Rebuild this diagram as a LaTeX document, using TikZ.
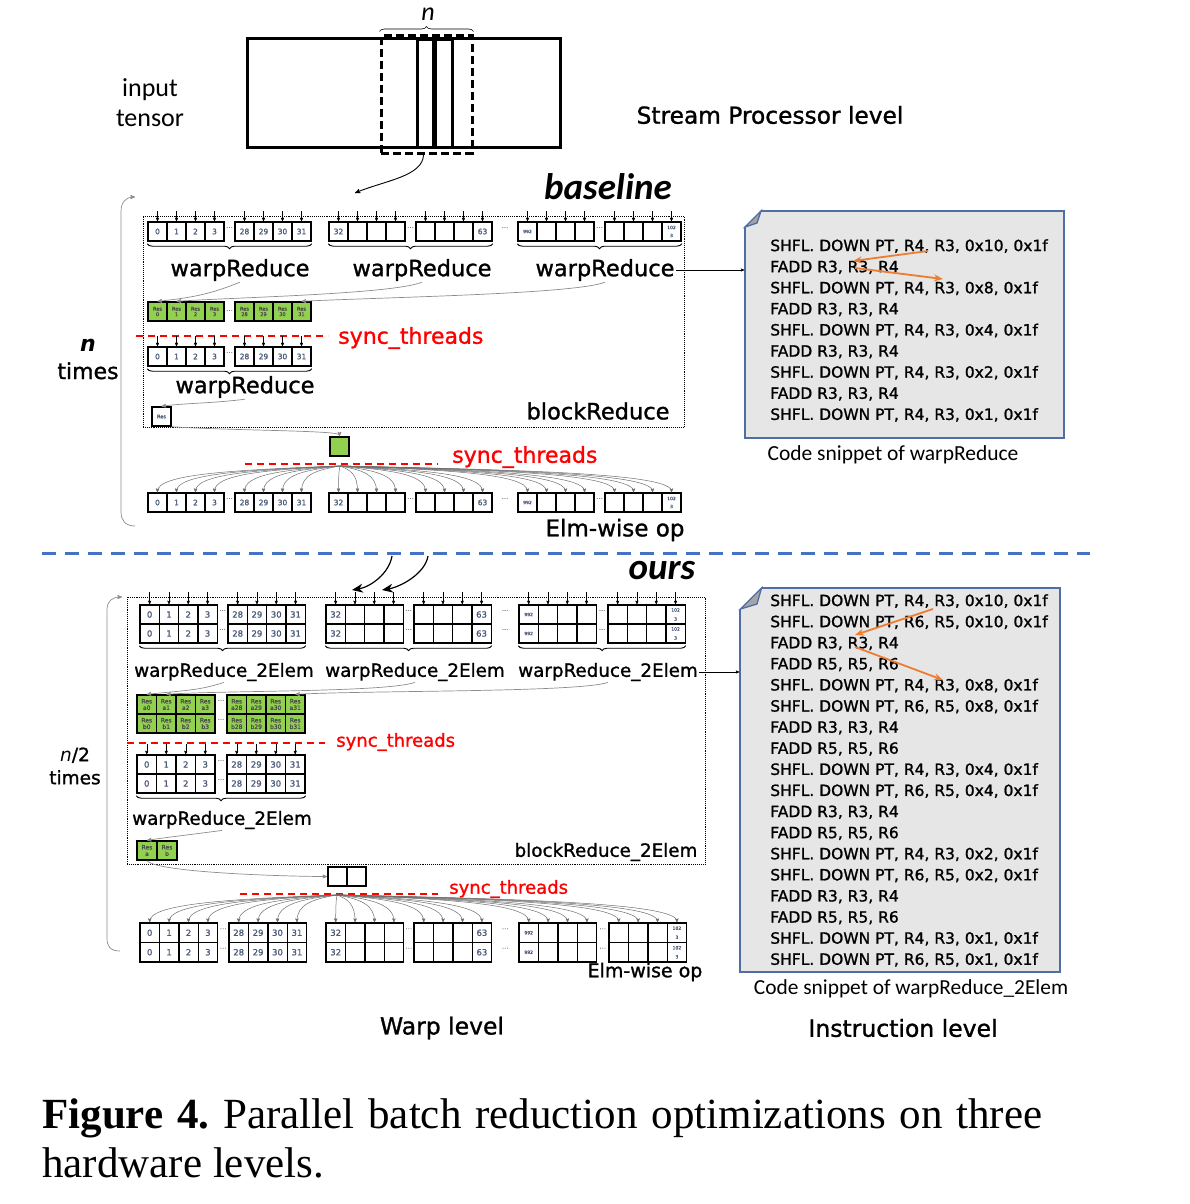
\documentclass[tikz,border=0pt]{standalone}
\usepackage{fontspec}
\setmainfont{DejaVu Sans}[UprightFeatures={FakeBold=1.2}]
\newfontfamily\calfont{Carlito}
\newfontfamily\capfont{Liberation Serif}
\usetikzlibrary{arrows,arrows.meta,calc,positioning,decorations.pathreplacing}

\definecolor{resgreen}{HTML}{92D050}
\definecolor{numgray}{HTML}{4A5A78}
\definecolor{codegray}{HTML}{E6E6E6}
\definecolor{codeblue}{HTML}{4F6EA8}
\definecolor{foldgray}{HTML}{A5A5A5}
\definecolor{sepblue}{HTML}{4472C4}
\definecolor{shflorange}{HTML}{ED7D31}
\definecolor{linegray}{HTML}{8C8C8C}
\definecolor{fangray}{HTML}{6E6E6E}

\newcommand{\tinynum}[1]{{\fontsize{4.5}{5}\selectfont #1}}

\begin{document}
\begin{tikzpicture}[x=1pt,y=-1pt,>=stealth',semithick,
  cell/.style={draw,line width=1.4pt,minimum width=19pt,minimum height=19pt,inner sep=0pt,align=center,text=numgray,font=\fontsize{7.5}{8}\selectfont},
  cellw/.style={cell,minimum width=19.3pt,font=\fontsize{8.5}{9}\selectfont},
  res/.style={cell,fill=resgreen,text=black!70,font=\fontsize{5}{5.5}\selectfont},
  resw/.style={res,minimum width=19.5pt,font=\fontsize{6}{6.5}\selectfont},
  tick/.style={->,thin},
  dots/.style={inner sep=0pt,text=gray,font=\fontsize{7}{7}\selectfont},
  brc/.style={decorate,decoration={brace,mirror,amplitude=5pt,raise=2pt},line width=0.9pt},
  feed/.style={->,linegray,line width=0.7pt},
  fan/.style={->,fangray,line width=0.5pt},
  blk/.style={draw,densely dotted,line width=0.9pt,inner sep=0pt},
  sync/.style={red,line width=1.4pt,dash pattern=on 7pt off 5pt},
  synctxt/.style={text=red,inner sep=0pt,anchor=west},
  lbl/.style={inner sep=1pt,font=\fontsize{22.5}{27}\selectfont},
  lbls/.style={inner sep=1pt,font=\fontsize{18.3}{22}\selectfont},
  codebox/.style={draw=codeblue,fill=codegray,line width=1.3pt,inner sep=0pt},
  code/.style={anchor=north west,align=left,inner sep=0pt,font=\fontsize{15.5}{21.1}\selectfont},
  shfl/.style={-{Stealth[length=9pt,width=7pt]},shflorange,line width=1.8pt},
  loopln/.style={->,linegray,line width=0.7pt},
  bigarr/.style={-{Stealth[length=11pt,width=9pt]},line width=1.2pt},
]
\useasboundingbox (0,0) rectangle (1190,1204);

% stream processor level
\node[draw,line width=3pt,minimum width=313pt,minimum height=108pt,inner sep=0pt] (tensor) at (403.5,93) {};
\node[draw,line width=3pt,minimum width=16pt,minimum height=107pt,inner sep=0pt] (col1) at (425,93.5) {};
\node[draw,line width=3pt,minimum width=17pt,minimum height=107pt,inner sep=0pt] (col2) at (443.5,93.5) {};
\node[draw,line width=3pt,dash pattern=on 8pt off 4pt,minimum width=91pt,minimum height=117pt,inner sep=0pt] (win) at (426.5,94.5) {};
\draw[decorate,decoration={brace,amplitude=5pt,raise=3pt},line width=0.6pt] (win.north west) -- (win.north east);
\node[font=\calfont\itshape\fontsize{26}{26}\selectfont] (nsz) at (428,14) {n};
\node[font=\calfont\fontsize{26}{30}\selectfont,align=center] (inp) at (150,103) {input\\tensor};
\node[font=\fontsize{23.3}{28}\selectfont] (splev) at (770,115) {Stream Processor level};
\coordinate (wtgt) at (355,193);
\draw[->,line width=0.9pt] ([xshift=-3pt]win.south) .. controls +(0,22) and +(28,-12) .. (wtgt);

% baseline
\node[font=\calfont\bfseries\itshape\fontsize{37}{37}\selectfont] (basel) at (608,187) {baseline};
\node[blk,minimum width=541pt,minimum height=211pt] (bblk) at (413.5,321.5) {};

\foreach \gx/\labs [count=\g] in {148/{0,1,2,3},235/{28,29,30,31},329/{32,{},{},{}},416/{{},{},{},63},518/{\tinynum{992},{},{},{}},605/{{},{},{},\tinynum{102}\\\tinynum{3}}}
  \foreach \lab [count=\i] in \labs {
    \node[cell] (t-\g-\i) at ({\gx+(\i-0.5)*19},231.5) {\lab};
    \draw[tick] ([yshift=10pt]t-\g-\i.north) -- (t-\g-\i.north);
  }
\foreach \a/\b in {1/2,3/4,4/5,5/6}
  \node[dots] (dt-\a) at ($(t-\a-4.east)!0.5!(t-\b-1.west)+(0,-3)$) {···};
\draw[brc] (t-1-1.south west) -- (t-2-4.south east);
\draw[brc] (t-3-1.south west) -- (t-4-4.south east);
\draw[brc] (t-5-1.south west) -- (t-6-4.south east);
\node[lbl] (wr1) at (240,270) {warpReduce};
\node[lbl] (wr2) at (422,270) {warpReduce};
\node[lbl] (wr3) at (605,270) {warpReduce};

\foreach \gx/\labs [count=\g] in {148/{0,1,2,3},235/{28,29,30,31}}
  \foreach \lab [count=\i] in \labs
    \node[res] (r-\g-\i) at ({\gx+(\i-0.5)*19},311.5) {Res\\\lab};
\node[dots] (dr) at ($(r-1-4.east)!0.5!(r-2-1.west)$) {···};
\draw[feed] (wr1.south) .. controls +(-25,10) and +(40,-4) .. (r-1-1.north);
\draw[feed] (wr2.south) .. controls +(-30,12) and +(60,-4) .. (r-1-2.north);
\draw[feed] (wr3.south) .. controls +(-30,12) and +(80,-4) .. (r-2-4.north);

\coordinate (sy1a) at (136,336);
\coordinate (sy1b) at (328,336);
\draw[sync] (sy1a) -- (sy1b);
\node[synctxt,font=\fontsize{22}{26}\selectfont] (st1) at (338,338) {sync\_threads};

\foreach \gx/\labs [count=\g] in {148/{0,1,2,3},235/{28,29,30,31}}
  \foreach \lab [count=\i] in \labs {
    \node[cell] (u-\g-\i) at ({\gx+(\i-0.5)*19},356.5) {\lab};
    \draw[tick] ([yshift=10pt]u-\g-\i.north) -- (u-\g-\i.north);
  }
\node[dots] (du) at ($(u-1-4.east)!0.5!(u-2-1.west)+(0,-3)$) {···};
\draw[brc] (u-1-1.south west) -- (u-2-4.south east);
\node[lbl] (wr4) at (245,387) {warpReduce};
\node[cell,font=\fontsize{5}{5}\selectfont] (rsum) at (161.5,416.5) {Res};
\draw[feed] (wr4.south) .. controls +(-30,4) and +(20,-3) .. (rsum.north);
\node[lbl] (brd) at (598,411) {blockReduce};
\node[cell,fill=resgreen] (bsum) at (339.5,446.5) {};
\draw[feed] (rsum.south east) .. controls +(60,4) and +(0,-6) .. (bsum.north);

\coordinate (sy2a) at (245,464);
\coordinate (sy2b) at (438,464);
\draw[sync] (sy2a) -- (sy2b);
\node[synctxt,font=\fontsize{22}{26}\selectfont] (st2) at (452,457) {sync\_threads};

\coordinate (apx1) at (340,466);
\foreach \gx/\labs [count=\g] in {148/{0,1,2,3},235/{28,29,30,31},329/{32,{},{},{}},416/{{},{},{},63},518/{\tinynum{992},{},{},{}},605/{{},{},{},\tinynum{102}\\\tinynum{3}}}
  \foreach \lab [count=\i] in \labs {
    \node[cell] (v-\g-\i) at ({\gx+(\i-0.5)*19},502.5) {\lab};
    \pgfmathsetmacro{\fdx}{\gx+(\i-0.5)*19-340}
    \draw[fan] (apx1) .. controls +({0.6*\fdx},4) and +(0,-18) .. (v-\g-\i.north);
  }
\foreach \a/\b in {1/2,3/4,4/5,5/6}
  \node[dots] (dv-\a) at ($(v-\a-4.east)!0.5!(v-\b-1.west)+(0,-3)$) {···};
\node[lbl,font=\fontsize{23}{27}\selectfont] (elm1) at (615,530) {Elm-wise op};

\coordinate (lpb) at (135,526);
\coordinate (lpt) at (135,197);
\draw[loopln] (lpb) .. controls +(-10,0) and +(0,8) .. (121,512) -- (121,212) .. controls +(0,-9) and +(-10,0) .. (lpt);
\node[align=center,font=\fontsize{22}{28}\selectfont] (ntim) at (88,359) {\textbf{\textit{n}}\\times};

% instruction level, baseline
\node[codebox,minimum width=319pt,minimum height=227pt] (cb1) at (904.5,324.5) {};
\fill[white] (743,209.5) -- (761.5,209.5) -- (743,228) -- cycle;
\draw[codeblue,line width=1.3pt,fill=foldgray] (745,227) -- (761,211) -- (757,223) -- cycle;
\node[code] (cd1) at (770,239) {SHFL. DOWN PT, R4, R3, 0x10, 0x1f\\FADD R3, R3, R4\\SHFL. DOWN PT, R4, R3, 0x8, 0x1f\\FADD R3, R3, R4\\SHFL. DOWN PT, R4, R3, 0x4, 0x1f\\FADD R3, R3, R4\\SHFL. DOWN PT, R4, R3, 0x2, 0x1f\\FADD R3, R3, R4\\SHFL. DOWN PT, R4, R3, 0x1, 0x1f};
\coordinate (o1a) at (928,251);
\coordinate (o1b) at (853,261);
\coordinate (o1c) at (855,268);
\coordinate (o1d) at (943,279);
\draw[shfl] (o1a) -- (o1b);
\draw[shfl] (o1c) -- (o1d);
\node[font=\calfont\fontsize{21.5}{26}\selectfont] (cs1) at (893,455) {Code snippet of warpReduce};
\draw[->,thin] (wr3.east) -- (wr3.east -| cb1.west);

% separator
\draw[sepblue,line width=3pt,dash pattern=on 14pt off 9pt] (42,553) -- (1090,553);

% ours
\node[font=\calfont\bfseries\itshape\fontsize{37}{37}\selectfont] (oursl) at (662,571) {ours};
\coordinate (bs1) at (392,556);
\coordinate (be1) at (352,590);
\coordinate (bs2) at (428,556);
\coordinate (be2) at (382,590);
\draw[bigarr] (bs1) .. controls +(-3,18) and +(18,-3) .. (be1);
\draw[bigarr] (bs2) .. controls +(-3,18) and +(18,-3) .. (be2);
\node[blk,minimum width=578pt,minimum height=267pt] (oblk) at (416,730.5) {};

\foreach \ry [count=\rw] in {614.5,633.5}
  \foreach \gx/\labs [count=\g] in {140/{0,1,2,3},228/{28,29,30,31},326/{32,{},{},{}},414/{{},{},{},63},519/{\tinynum{992},{},{},{}},608/{{},{},{},\tinynum{102}\\\tinynum{3}}}
    \foreach \lab [count=\i] in \labs
      \node[cellw] (p-\rw-\g-\i) at ({\gx+(\i-0.5)*19.3},\ry) {\lab};
\foreach \g in {1,...,6}
  \foreach \i in {1,...,4}
    \draw[tick] ([yshift=12pt]p-1-\g-\i.north) -- (p-1-\g-\i.north);
\foreach \rw in {1,2}
  \foreach \a/\b in {1/2,3/4,4/5,5/6}
    \node[dots] (dp-\rw-\a) at ($(p-\rw-\a-4.east)!0.5!(p-\rw-\b-1.west)+(0,-3)$) {···};
\draw[brc] (p-2-1-1.south west) -- (p-2-2-4.south east);
\draw[brc] (p-2-3-1.south west) -- (p-2-4-4.south east);
\draw[brc] (p-2-5-1.south west) -- (p-2-6-4.south east);
\node[lbls] (wq1) at (224,672) {warpReduce\_2Elem};
\node[lbls] (wq2) at (415,672) {warpReduce\_2Elem};
\node[lbls] (wq3) at (608,672) {warpReduce\_2Elem};

\foreach \ry/\abl [count=\rw] in {704.5/a,723.5/b}
  \foreach \gx/\labs [count=\g] in {137/{0,1,2,3},227/{28,29,30,31}}
    \foreach \lab [count=\i] in \labs
      \node[resw] (q-\rw-\g-\i) at ({\gx+(\i-0.5)*19.5},\ry) {Res\\\abl\lab};
\foreach \rw in {1,2}
  \node[dots] (dq-\rw) at ($(q-\rw-1-4.east)!0.5!(q-\rw-2-1.west)+(0,-3)$) {···};
\draw[feed] (wq1.south) .. controls +(-25,8) and +(40,-4) .. (q-1-1-1.north);
\draw[feed] (wq2.south) .. controls +(-30,10) and +(60,-4) .. (q-1-1-2.north);
\draw[feed] (wq3.south) .. controls +(-30,10) and +(80,-4) .. (q-1-2-4.north);

\coordinate (sy3a) at (127,743);
\coordinate (sy3b) at (325,743);
\draw[sync] (sy3a) -- (sy3b);
\node[synctxt,font=\fontsize{18}{22}\selectfont] (st3) at (336,742) {sync\_threads};

\foreach \ry [count=\rw] in {764.5,783.5}
  \foreach \gx/\labs [count=\g] in {137/{0,1,2,3},227/{28,29,30,31}}
    \foreach \lab [count=\i] in \labs
      \node[cellw,minimum width=19.5pt] (s-\rw-\g-\i) at ({\gx+(\i-0.5)*19.5},\ry) {\lab};
\foreach \g in {1,2}
  \foreach \i in {1,...,4}
    \draw[tick] ([yshift=10pt]s-1-\g-\i.north) -- (s-1-\g-\i.north);
\foreach \rw in {1,2}
  \node[dots] (ds-\rw) at ($(s-\rw-1-4.east)!0.5!(s-\rw-2-1.west)+(0,-3)$) {···};
\draw[brc] (s-2-1-1.south west) -- (s-2-2-4.south east);
\node[lbls] (wq4) at (222,820) {warpReduce\_2Elem};
\node[resw,minimum width=20pt] (qa) at (147,850.5) {Res\\a};
\node[resw,minimum width=20pt] (qb) at (167,850.5) {Res\\b};
\draw[feed] (wq4.south) .. controls +(-30,4) and +(20,-3) .. (qa.north);
\node[lbls] (brd2) at (606,852) {blockReduce\_2Elem};
\node[cellw] (da) at (337.5,876.5) {};
\node[cellw] (db) at (356.5,876.5) {};
\draw[feed] (qa.south) .. controls +(10,12) and +(-40,0) .. (da.west);

\coordinate (sy4a) at (240,894);
\coordinate (sy4b) at (438,894);
\draw[sync] (sy4a) -- (sy4b);
\node[synctxt,font=\fontsize{18}{22}\selectfont] (st4) at (449,889) {sync\_threads};

\coordinate (apx2) at (337,895);
\foreach \ry [count=\rw] in {932.75,952.25}
  \foreach \gx/\labs [count=\g] in {140/{0,1,2,3},229/{28,29,30,31},326/{32,{},{},{}},414/{{},{},{},63},519/{\tinynum{992},{},{},{}},609/{{},{},{},\tinynum{102}\\\tinynum{3}}}
    \foreach \lab [count=\i] in \labs
      \node[cellw,minimum width=19.4pt,minimum height=19.5pt] (w-\rw-\g-\i) at ({\gx+(\i-0.5)*19.4},\ry) {\lab};
\foreach \gx [count=\g] in {140,229,326,414,519,609}
  \foreach \i in {1,...,4} {
    \pgfmathsetmacro{\fdx}{\gx+(\i-0.5)*19.4-337}
    \draw[fan] (apx2) .. controls +({0.6*\fdx},4) and +(0,-18) .. (w-1-\g-\i.north);
  }
\foreach \rw in {1,2}
  \foreach \a/\b in {1/2,3/4,4/5,5/6}
    \node[dots] (dw-\rw-\a) at ($(w-\rw-\a-4.east)!0.5!(w-\rw-\b-1.west)+(0,-3)$) {···};
\node[lbls,font=\fontsize{19}{23}\selectfont] (elm2) at (645,972) {Elm-wise op};

\coordinate (lqb) at (120,951);
\coordinate (lqt) at (122,597);
\draw[loopln] (lqb) .. controls +(-10,0) and +(0,8) .. (107,938) -- (107,610) .. controls +(0,-9) and +(-10,0) .. (lqt);
\node[align=center,font=\fontsize{18.5}{23}\selectfont] (ntim2) at (75,766) {\textit{n}/2\\times};

% instruction level, ours
\node[codebox,minimum width=320pt,minimum height=384pt] (cb2) at (900,780) {};
\fill[white] (738.5,586.5) -- (762.5,586.5) -- (738.5,610.5) -- cycle;
\draw[codeblue,line width=1.3pt,fill=foldgray] (740.5,609) -- (761.5,588) -- (757,604) -- cycle;
\node[code] (cd2) at (770,594) {SHFL. DOWN PT, R4, R3, 0x10, 0x1f\\SHFL. DOWN PT, R6, R5, 0x10, 0x1f\\FADD R3, R3, R4\\FADD R5, R5, R6\\SHFL. DOWN PT, R4, R3, 0x8, 0x1f\\SHFL. DOWN PT, R6, R5, 0x8, 0x1f\\FADD R3, R3, R4\\FADD R5, R5, R6\\SHFL. DOWN PT, R4, R3, 0x4, 0x1f\\SHFL. DOWN PT, R6, R5, 0x4, 0x1f\\FADD R3, R3, R4\\FADD R5, R5, R6\\SHFL. DOWN PT, R4, R3, 0x2, 0x1f\\SHFL. DOWN PT, R6, R5, 0x2, 0x1f\\FADD R3, R3, R4\\FADD R5, R5, R6\\SHFL. DOWN PT, R4, R3, 0x1, 0x1f\\SHFL. DOWN PT, R6, R5, 0x1, 0x1f};
\coordinate (o2a) at (933,609);
\coordinate (o2b) at (855,635);
\coordinate (o2c) at (855,647);
\coordinate (o2d) at (943,680);
\draw[shfl] (o2a) -- (o2b);
\draw[shfl] (o2c) -- (o2d);
\node[font=\calfont\fontsize{21.4}{26}\selectfont] (cs2) at (911,989) {Code snippet of warpReduce\_2Elem};
\draw[->,thin] (wq3.east) -- (wq3.east -| cb2.west);

% levels and caption
\node[font=\fontsize{23.5}{28}\selectfont] (wlev) at (442,1028) {Warp level};
\node[font=\fontsize{23.5}{28}\selectfont] (ilev) at (903,1028) {Instruction level};
\node[anchor=north west,text width=1000pt,align=justify,inner sep=0pt,font=\capfont\frenchspacing\fontsize{43}{49}\selectfont] (capt) at (42,1098) {\textbf{Figure 4.} Parallel batch reduction optimizations on three\linebreak hardware levels.};
\end{tikzpicture}
\end{document}
